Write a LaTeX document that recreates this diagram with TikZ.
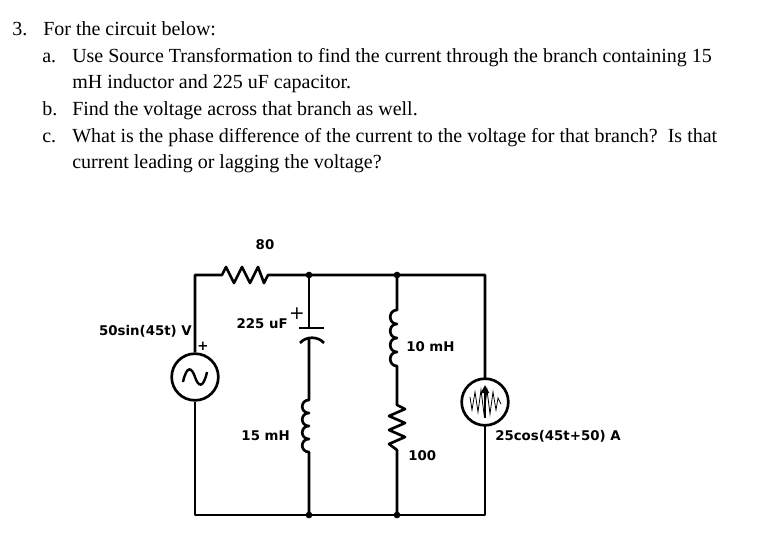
\documentclass[tikz,border=0pt]{standalone}
\usepackage{fontspec}
\setmainfont{Liberation Serif}
\newfontfamily\lbl{DejaVu Sans}
\usetikzlibrary{arrows.meta}
\begin{document}
\begin{tikzpicture}[x=0.75pt,y=-0.75pt,
  w/.style={line width=2pt,line join=round},
  txt/.style={anchor=base west,inner sep=0pt,font=\fontsize{15pt}{17pt}\selectfont},
  lab/.style={inner sep=0pt,font=\lbl\bfseries\fontsize{10pt}{12pt}\selectfont},
  dot/.style={circle,fill,inner sep=0pt,minimum size=5pt}]
\useasboundingbox (0,0) rectangle (761,540);
% text
\node[txt] (t3) at (12,35) {3.\hspace{12pt}For the circuit below:};
\node[txt] (ta) at (42,62) {a.};
\node[txt] (ta1) at (72,62) {Use Source Transformation to find the current through the branch containing 15};
\node[txt] (ta2) at (72,88) {mH inductor and 225 uF capacitor.};
\node[txt] (tb) at (42,115) {b.};
\node[txt] (tb1) at (72,115) {Find the voltage across that branch as well.};
\node[txt] (tc) at (42,142) {c.};
\node[txt] (tc1) at (72,142) {What is the phase difference of the current to the voltage for that branch?\ \ Is that};
\node[txt] (tc2) at (72,168) {current leading or lagging the voltage?};
% coordinates
\coordinate (TL) at (195,275); \coordinate (BL) at (195,515);
\coordinate (N1) at (309,275); \coordinate (B1) at (309,515);
\coordinate (N2) at (397,275); \coordinate (B2) at (397,515);
\coordinate (TR) at (485,275); \coordinate (BR) at (485,515);
% source
\node[circle,draw,line width=2pt,minimum size=35pt,inner sep=0pt] (vs) at (195,377) {};
\draw[line width=1.8pt] (183,382) .. controls (187,364) and (192,368) .. (195,377) .. controls (198,386) and (203,390) .. (207,372);
\draw[w] (vs.north) -- (TL) -- (222,275) -- (226,267) -- (234,283) -- (242,267) -- (250,283) -- (258,267) -- (264,283) -- (268,275) -- (N1) -- (N2) -- (TR) -- (485,378);
\draw[w] (vs.south) -- (BL) -- (B1) -- (B2) -- (BR) -- (485,426);
% current source
\node[circle,draw,line width=2pt,minimum size=35pt,inner sep=0pt] (cs) at (485,402) {};
\draw[line width=0.6pt] (470,397) -- (472,410) -- (475,392) -- (478,412) -- (481,390) -- (484,414) -- (487,390) -- (490,414) -- (493,392) -- (496,410) -- (498,398) -- (501,404);
\draw[line width=2.2pt,-{Triangle[length=6pt,width=6pt]}] (485,418) -- (485,385);
% capacitor branch
\draw[w] (N1) -- (309,328);
\draw[w] (299,328) -- (324,328);
\draw[w] (300,343) .. controls (306,336) and (318,336) .. (324,343);
\draw[w] (309,338) -- (309,400)
  .. controls (300,400) and (300,413) .. (309,413)
  .. controls (300,413) and (300,426) .. (309,426)
  .. controls (300,426) and (300,439) .. (309,439)
  .. controls (300,439) and (300,452) .. (309,452) -- (B1);
% RL branch
\draw[w] (N2) -- (397,310)
  .. controls (388,310) and (388,324) .. (397,324)
  .. controls (388,324) and (388,338) .. (397,338)
  .. controls (388,338) and (388,352) .. (397,352)
  .. controls (388,352) and (388,366) .. (397,366) -- (397,405)
  -- (405,409) -- (389,416) -- (405,423) -- (389,430) -- (405,437) -- (389,444) -- (397,450) -- (B2);
% dots
\node[dot] (d1) at (N1) {}; \node[dot] (d2) at (N2) {};
\node[dot] (d3) at (B1) {}; \node[dot] (d4) at (B2) {};
% labels
\node[lab] (l80) at (265,245) {80};
\node[lab,anchor=east] (lv) at (192,331) {50sin(45t) V};
\node[lab] (lp) at (203,346) {+};
\node[lab,anchor=east] (lc) at (288,324) {225 uF};
\node[inner sep=0pt,font=\lbl\fontsize{14pt}{14pt}\selectfont] (cp) at (297,314) {+};
\node[lab,anchor=east] (ll1) at (290,436) {15 mH};
\node[lab,anchor=west] (ll2) at (406,347) {10 mH};
\node[lab,anchor=west] (lr) at (408,456) {100};
\node[lab,anchor=west] (li) at (495,436) {25cos(45t+50) A};
\end{tikzpicture}
\end{document}
